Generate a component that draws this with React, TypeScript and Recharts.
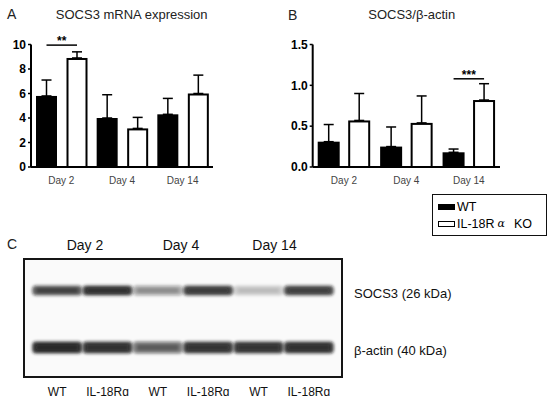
import React from 'react'
import { BarChart, Bar, XAxis, YAxis, ErrorBar, ScatterChart, Scatter } from 'recharts'

const FONT = 'Arial, "Liberation Sans", sans-serif'

const days = ['Day 2', 'Day 4', 'Day 14']

// A: SOCS3 mRNA expression
const mrnaWT = [5.8, 4.0, 4.3]
const mrnaWTErr = [1.3, 1.9, 1.3]
const mrnaKO = [8.9, 3.15, 6.0]
const mrnaKOErr = [0.5, 0.9, 1.5]
const mrnaSig = ['**', '', '']
const mrnaSigLevel = [9.95, 0, 0]
const mrnaTicks = [0, 2, 4, 6, 8, 10]

// B: SOCS3/β-actin densitometry
const ratioWT = [0.31, 0.25, 0.18]
const ratioWTErr = [0.21, 0.24, 0.04]
const ratioKO = [0.57, 0.54, 0.82]
const ratioKOErr = [0.33, 0.33, 0.2]
const ratioSig = ['', '', '***']
const ratioSigLevel = [0, 0, 1.08]
const ratioTicks = [0, 0.5, 1, 1.5]

// C: western blot, relative band darkness per lane
const lanes = ['d2-wt', 'd2-ko', 'd4-wt', 'd4-ko', 'd14-wt', 'd14-ko']
const laneLabels = ['WT', 'IL-18R\u0251', 'WT', 'IL-18R\u0251', 'WT', 'IL-18R\u0251']
const blotRows = ['SOCS3 (26 kDa)', '\u03b2-actin (40 kDa)']
const socs3Band = [0.75, 0.95, 0.4, 0.85, 0.2, 0.82]
const actinBand = [1.0, 0.92, 0.62, 0.9, 0.9, 0.92]

const mrnaData = days.map((d, i) => ({
  day: d,
  wt: mrnaWT[i], wtErr: [0, mrnaWTErr[i]],
  ko: mrnaKO[i], koErr: [0, mrnaKOErr[i]],
  sig: mrnaSig[i], sigLevel: mrnaSigLevel[i],
}))

const ratioData = days.map((d, i) => ({
  day: d,
  wt: ratioWT[i], wtErr: [0, ratioWTErr[i]],
  ko: ratioKO[i], koErr: [0, ratioKOErr[i]],
  sig: ratioSig[i], sigLevel: ratioSigLevel[i],
}))

const socsData = lanes.map((l, i) => ({ lane: l, row: blotRows[0], v: socs3Band[i] }))
const actinData = lanes.map((l, i) => ({ lane: l, row: blotRows[1], v: actinBand[i] }))

// outlined bar; the KO bar also draws the significance bracket back to its WT partner
function barShape(fill: string, gap: number) {
  return (props: any) => {
    const { x, y, width, height, payload } = props
    let bracket = null
    if (fill === '#fff' && payload.sig) {
      const perUnit = height / payload.ko
      const ly = y + height - payload.sigLevel * perUnit
      const x1 = x - gap - width / 2
      const x2 = x + width / 2
      bracket = (
        <g>
          <line x1={x1} x2={x2} y1={ly} y2={ly} stroke="#000" strokeWidth={1.5} />
          <text x={(x1 + x2) / 2} y={ly} textAnchor="middle" fontSize={12} fontWeight="bold"
            fontFamily={FONT} fill="#000">{payload.sig}</text>
        </g>
      )
    }
    return (
      <g>
        <rect x={x + 1} y={y + 1} width={Math.max(width - 2, 0)} height={Math.max(height - 1, 0)}
          fill={fill} stroke="#000" strokeWidth={2} />
        {bracket}
      </g>
    )
  }
}

function BandShape(props: any) {
  const { cx, cy, payload, index } = props
  const isActin = payload.row === blotRows[1]
  const w = 50
  const h = isActin ? 12 : 10
  const id = `blur-${isActin ? 'a' : 's'}-${index}`
  return (
    <g>
      <defs>
        <filter id={id} x="-30%" y="-150%" width="160%" height="400%">
          <feGaussianBlur stdDeviation="1.8" />
        </filter>
      </defs>
      <rect x={cx - w / 2} y={cy - h / 2} width={w} height={h} rx={4}
        fill="#151515" fillOpacity={payload.v * 0.85} filter={`url(#${id})`} />
      <rect x={cx - w / 2 + 4} y={cy - h / 4} width={w - 8} height={h / 2} rx={2}
        fill="#111" fillOpacity={payload.v * 0.5} filter={`url(#${id})`} />
    </g>
  )
}

const yTick = { fill: '#000', fontSize: 12, fontWeight: 'bold', fontFamily: FONT }
const xTick = { fill: '#444', fontSize: 10, fontFamily: FONT }

function GroupedBars({ data, ticks, max, fmt, width, yWidth, right, barSize, barGap }: any) {
  return (
    <BarChart width={width} height={200} data={data} margin={{ top: 44.5, right, bottom: 0, left: 0 }}
      barSize={barSize} barGap={barGap}>
      <XAxis dataKey="day" axisLine={{ stroke: '#000', strokeWidth: 2 }} tickLine={false}
        tickSize={0} tickMargin={10} height={33} tick={xTick} />
      <YAxis domain={[0, max]} ticks={ticks} tickFormatter={fmt} width={yWidth}
        axisLine={{ stroke: '#000', strokeWidth: 2 }} tickLine={{ stroke: '#000', strokeWidth: 1.5 }}
        tickSize={3} tickMargin={2} tick={yTick} />
      <Bar dataKey="wt" shape={barShape('#000', barGap)} isAnimationActive={false}>
        <ErrorBar dataKey="wtErr" direction="y" width={5} stroke="#000" strokeWidth={1.5} isAnimationActive={false} />
      </Bar>
      <Bar dataKey="ko" shape={barShape('#fff', barGap)} isAnimationActive={false}>
        <ErrorBar dataKey="koErr" direction="y" width={5} stroke="#000" strokeWidth={1.5} isAnimationActive={false} />
      </Bar>
    </BarChart>
  )
}

export default function App() {
  return (
    <div style={{ position: 'absolute', left: 0, top: 0, width: 550, height: 401, background: '#fff', fontFamily: FONT, overflow: 'hidden' }}>
      <div style={{ position: 'absolute', left: 0, top: 0 }}>
        <GroupedBars data={mrnaData} ticks={mrnaTicks} max={10} fmt={(v: number) => `${v}`}
          width={275} yWidth={31} right={62} barSize={21} barGap={9.5} />
      </div>
      <div style={{ position: 'absolute', left: 270, top: 0 }}>
        <GroupedBars data={ratioData} ticks={ratioTicks} max={1.5} fmt={(v: number) => v.toFixed(1)}
          width={280} yWidth={42.7} right={50} barSize={22} barGap={8.5} />
      </div>

      {/* blot frame */}
      <div style={{ position: 'absolute', left: 23, top: 258, width: 320, height: 120, boxSizing: 'border-box', border: '2px solid #151515', background: '#fafafa' }} />
      <div style={{ position: 'absolute', left: 0, top: 230 }}>
        <ScatterChart width={550} height={171} margin={{ top: 29, right: 0, bottom: 0, left: 24 }}>
          <XAxis dataKey="lane" type="category" allowDuplicatedCategory={false} padding={{ left: 8, right: 8 }}
            axisLine={false} tickLine={false} tickSize={0} tickMargin={10} height={24}
            tickFormatter={(v: string) => laneLabels[lanes.indexOf(v)]}
            tick={{ fill: '#111', fontSize: 12, fontFamily: FONT }} />
          <YAxis dataKey="row" type="category" orientation="right" reversed allowDuplicatedCategory={false}
            padding={{ top: 3, bottom: 1 }} width={208} axisLine={false} tickLine={false}
            tickSize={0} tickMargin={12} tick={{ fill: '#111', fontSize: 13, fontFamily: FONT, dy: 3 }} />
          <Scatter data={socsData} shape={BandShape} isAnimationActive={false} />
          <Scatter data={actinData} shape={BandShape} isAnimationActive={false} />
        </ScatterChart>
      </div>

      {/* legend */}
      <div style={{ position: 'absolute', left: 432, top: 194, width: 115, height: 42, boxSizing: 'border-box', border: '1.5px solid #111', fontSize: 12.5, color: '#000', lineHeight: '16px' }}>
        <div style={{ position: 'absolute', left: 5, top: 4, display: 'flex', alignItems: 'center' }}>
          <span style={{ display: 'inline-block', width: 17, height: 6, background: '#000', marginRight: 2 }} />
          <span>WT</span>
        </div>
        <div style={{ position: 'absolute', left: 5, top: 21, display: 'flex', alignItems: 'center', whiteSpace: 'nowrap' }}>
          <span style={{ display: 'inline-block', width: 17, height: 6, boxSizing: 'border-box', border: '1.5px solid #000', background: '#fff', marginRight: 2 }} />
          <span>IL-18R</span>
          <span style={{ fontFamily: '"DejaVu Serif", serif', fontStyle: 'italic', fontSize: 11, margin: '0 9px 0 3px' }}>{'\u03b1'}</span>
          <span>KO</span>
        </div>
      </div>

      {/* panel letters, titles and lane group labels */}
      <svg width={550} height={401} style={{ position: 'absolute', left: 0, top: 0, pointerEvents: 'none' }}
        fontFamily={FONT}>
        <text x={7} y={14} dominantBaseline="central" fontSize={14} fill="#222">A</text>
        <text x={131.7} y={14} dominantBaseline="central" textAnchor="middle" fontSize={13} fill="#222">SOCS3 mRNA expression</text>
        <text x={288} y={15} dominantBaseline="central" fontSize={14} fill="#222">B</text>
        <text x={411.7} y={14} dominantBaseline="central" textAnchor="middle" fontSize={13} fill="#222">{'SOCS3/\u03b2-actin'}</text>
        <text x={7} y={244} dominantBaseline="central" fontSize={14} fill="#222">C</text>
        <text x={85} y={245} dominantBaseline="central" textAnchor="middle" fontSize={14} fill="#111">{days[0]}</text>
        <text x={181} y={245} dominantBaseline="central" textAnchor="middle" fontSize={14} fill="#111">{days[1]}</text>
        <text x={274.5} y={245} dominantBaseline="central" textAnchor="middle" fontSize={14} fill="#111">{days[2]}</text>
      </svg>
    </div>
  )
}
